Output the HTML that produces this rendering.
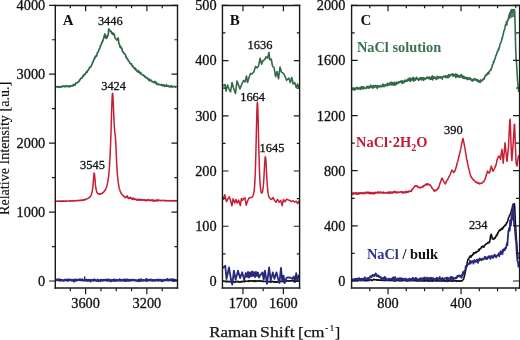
<!DOCTYPE html>
<html><head><meta charset="utf-8"><style>
html,body{margin:0;padding:0;background:#fff;}
svg{display:block;}
text{font-family:"Liberation Serif","Times New Roman",serif;}
</style></head><body>
<svg width="520" height="340" viewBox="0 0 520 340">
<rect width="520" height="340" fill="#fff"/>
<polyline points="55.60,87.00 56.00,87.09 56.40,86.88 56.80,86.64 57.20,86.79 57.60,86.58 58.00,86.95 58.40,87.40 58.80,86.72 59.20,86.66 59.60,87.06 60.00,86.99 60.40,86.89 60.80,86.49 61.20,86.81 61.60,87.07 62.00,86.29 62.40,86.61 62.80,86.04 63.20,86.25 63.60,86.01 64.00,86.61 64.40,86.19 64.80,86.77 65.20,86.70 65.60,86.55 66.00,85.61 66.40,86.36 66.80,86.52 67.20,86.56 67.60,85.87 68.00,86.26 68.40,86.03 68.80,86.06 69.20,86.79 69.60,86.00 70.00,86.29 70.40,86.58 70.80,85.90 71.20,86.01 71.60,86.03 72.00,85.93 72.40,85.31 72.80,85.65 73.20,85.95 73.60,84.48 74.00,85.27 74.40,84.71 74.80,84.14 75.20,85.00 75.60,84.15 76.00,82.98 76.40,83.21 76.80,83.11 77.20,82.46 77.60,82.52 78.00,81.87 78.40,81.88 78.80,81.80 79.20,80.41 79.60,80.35 80.00,79.60 80.40,79.42 80.80,78.36 81.20,78.19 81.60,77.91 82.00,77.98 82.40,77.64 82.80,76.02 83.20,75.82 83.60,76.02 84.00,74.24 84.40,74.50 84.80,74.18 85.20,74.37 85.60,73.60 86.00,72.59 86.40,72.08 86.80,71.65 87.20,72.08 87.60,70.57 88.00,70.14 88.40,69.91 88.80,69.07 89.20,68.44 89.60,67.36 90.00,67.38 90.40,66.56 90.80,66.87 91.20,66.00 91.60,64.94 92.00,64.36 92.40,62.80 92.80,62.62 93.20,61.03 93.60,60.50 94.00,58.84 94.40,59.25 94.80,57.47 95.20,56.69 95.60,57.09 96.00,55.82 96.40,55.56 96.80,55.95 97.20,53.16 97.60,52.47 98.00,52.16 98.40,51.52 98.80,50.13 99.20,49.09 99.60,48.68 100.00,47.54 100.40,45.62 100.80,45.37 101.20,44.56 101.60,42.92 102.00,42.86 102.40,41.05 102.80,41.29 103.20,39.71 103.60,38.55 104.00,36.80 104.40,35.87 104.80,33.88 105.20,35.62 105.60,37.80 106.00,36.78 106.40,38.33 106.80,35.98 107.20,37.38 107.60,35.91 108.00,35.33 108.40,32.89 108.80,28.92 109.20,29.94 109.60,30.24 110.00,30.45 110.40,31.17 110.80,31.79 111.20,31.42 111.60,33.07 112.00,32.55 112.40,33.95 112.80,34.48 113.20,34.36 113.60,33.24 114.00,34.35 114.40,34.57 114.80,37.18 115.20,38.35 115.60,38.55 116.00,39.12 116.40,39.28 116.80,40.03 117.20,39.67 117.60,39.19 118.00,37.90 118.40,39.20 118.80,43.26 119.20,43.96 119.60,45.06 120.00,46.44 120.40,47.67 120.80,46.44 121.20,48.06 121.60,48.61 122.00,48.70 122.40,51.24 122.80,51.57 123.20,52.23 123.60,52.19 124.00,53.50 124.40,53.49 124.80,54.40 125.20,54.42 125.60,55.05 126.00,57.40 126.40,56.94 126.80,58.16 127.20,58.67 127.60,59.12 128.00,59.65 128.40,60.91 128.80,60.90 129.20,61.56 129.60,62.23 130.00,63.48 130.40,63.72 130.80,63.99 131.20,63.88 131.60,63.85 132.00,65.68 132.40,66.15 132.80,65.95 133.20,66.80 133.60,67.39 134.00,67.87 134.40,68.37 134.80,68.03 135.20,69.62 135.60,68.49 136.00,70.04 136.40,70.17 136.80,70.74 137.20,71.65 137.60,71.77 138.00,70.64 138.40,70.69 138.80,72.43 139.20,71.76 139.60,72.66 140.00,73.48 140.40,72.47 140.80,72.56 141.20,74.17 141.60,74.35 142.00,74.50 142.40,74.95 142.80,74.77 143.20,74.73 143.60,75.75 144.00,75.62 144.40,75.57 144.80,77.01 145.20,77.01 145.60,77.56 146.00,77.13 146.40,77.58 146.80,77.66 147.20,77.97 147.60,78.77 148.00,78.52 148.40,79.35 148.80,79.59 149.20,80.69 149.60,79.22 150.00,80.61 150.40,80.37 150.80,80.66 151.20,80.20 151.60,80.92 152.00,81.71 152.40,81.51 152.80,81.79 153.20,81.81 153.60,82.71 154.00,82.34 154.40,81.50 154.80,82.42 155.20,82.02 155.60,81.62 156.00,83.10 156.40,84.17 156.80,83.75 157.20,83.30 157.60,83.52 158.00,84.58 158.40,84.25 158.80,84.32 159.20,84.38 159.60,84.54 160.00,84.99 160.40,84.99 160.80,84.96 161.20,84.51 161.60,85.31 162.00,84.90 162.40,85.74 162.80,84.79 163.20,85.34 163.60,85.47 164.00,84.98 164.40,86.34 164.80,86.29 165.20,85.55 165.60,86.13 166.00,86.04 166.40,84.87 166.80,86.12 167.20,86.06 167.60,86.16 168.00,85.72 168.40,86.09 168.80,86.16 169.20,86.73 169.60,86.43 170.00,86.33 170.40,86.96 170.80,86.18 171.20,86.28 171.60,85.77 172.00,87.10 172.40,86.87 172.80,86.86 173.20,86.78 173.60,86.57 174.00,86.62 174.40,86.45 174.80,86.48 175.20,86.58 175.60,87.12 176.00,86.78 176.40,86.57 176.80,86.39" fill="none" stroke="#306a46" stroke-width="1.7" stroke-linejoin="round"/>
<polyline points="55.60,201.13 55.85,201.47 56.10,201.30 56.35,201.23 56.60,201.16 56.85,201.04 57.10,201.20 57.35,201.33 57.60,201.14 57.85,201.16 58.10,201.16 58.35,201.20 58.60,200.95 58.85,201.14 59.10,201.05 59.35,201.30 59.60,201.05 59.85,201.25 60.10,201.39 60.35,201.11 60.60,201.06 60.85,201.18 61.10,201.14 61.35,200.99 61.60,201.20 61.85,201.43 62.10,201.09 62.35,201.09 62.60,200.96 62.85,201.16 63.10,200.92 63.35,200.94 63.60,201.29 63.85,200.96 64.10,201.25 64.35,201.31 64.60,201.12 64.85,201.16 65.10,201.36 65.35,201.04 65.60,200.97 65.85,200.85 66.10,201.06 66.35,201.27 66.60,201.18 66.85,200.89 67.10,200.90 67.35,200.95 67.60,201.06 67.85,200.98 68.10,201.04 68.35,201.04 68.60,200.95 68.85,200.98 69.10,201.01 69.35,200.96 69.60,201.04 69.85,201.24 70.10,201.04 70.35,200.96 70.60,200.69 70.85,200.99 71.10,200.63 71.35,200.71 71.60,201.04 71.85,201.01 72.10,200.87 72.35,200.63 72.60,200.82 72.85,200.77 73.10,200.96 73.35,201.19 73.60,200.87 73.85,200.71 74.10,200.65 74.35,200.80 74.60,200.77 74.85,200.62 75.10,200.79 75.35,200.59 75.60,200.92 75.85,200.90 76.10,200.89 76.35,200.64 76.60,200.77 76.85,200.66 77.10,200.61 77.35,200.60 77.60,200.44 77.85,200.40 78.10,200.72 78.35,200.55 78.60,200.59 78.85,200.69 79.10,200.26 79.35,200.38 79.60,200.50 79.85,200.51 80.10,200.37 80.35,200.55 80.60,200.39 80.85,200.15 81.10,200.16 81.35,200.39 81.60,200.30 81.85,199.91 82.10,200.36 82.35,200.21 82.60,200.28 82.85,199.97 83.10,199.94 83.35,199.77 83.60,200.27 83.85,199.81 84.10,200.02 84.35,199.63 84.60,199.69 84.85,199.36 85.10,199.48 85.35,199.62 85.60,199.21 85.85,199.49 86.10,199.30 86.35,199.01 86.60,199.00 86.85,198.91 87.10,198.87 87.35,198.69 87.60,198.53 87.85,198.49 88.10,198.25 88.35,198.07 88.60,198.10 88.85,198.07 89.10,197.53 89.35,197.56 89.60,197.23 89.85,196.93 90.10,196.92 90.35,196.39 90.60,196.32 90.85,195.55 91.10,195.22 91.35,194.53 91.60,193.72 91.85,193.04 92.10,191.84 92.35,190.61 92.60,188.82 92.85,186.56 93.10,184.12 93.35,181.12 93.60,178.01 93.85,174.83 94.10,173.25 94.35,173.10 94.60,175.29 94.85,177.88 95.10,180.83 95.35,183.87 95.60,186.35 95.85,187.79 96.10,189.29 96.35,190.46 96.60,191.26 96.85,192.16 97.10,192.50 97.35,192.92 97.60,193.43 97.85,193.47 98.10,193.83 98.35,193.75 98.60,193.81 98.85,193.78 99.10,194.38 99.35,194.07 99.60,194.15 99.85,194.09 100.10,194.08 100.35,194.01 100.60,194.22 100.85,193.70 101.10,193.54 101.35,193.52 101.60,193.35 101.85,193.54 102.10,193.41 102.35,192.99 102.60,192.77 102.85,192.74 103.10,192.81 103.35,191.96 103.60,192.23 103.85,191.74 104.10,191.78 104.35,191.16 104.60,190.94 104.85,190.40 105.10,190.08 105.35,189.99 105.60,189.42 105.85,188.70 106.10,188.03 106.35,187.22 106.60,186.70 106.85,185.93 107.10,184.99 107.35,183.93 107.60,182.59 107.85,181.40 108.10,179.87 108.35,178.32 108.60,176.40 108.85,173.78 109.10,171.02 109.35,168.04 109.60,164.37 109.85,160.20 110.10,155.50 110.35,149.81 110.60,143.72 110.85,136.48 111.10,128.69 111.35,120.31 111.60,111.89 111.85,104.18 112.10,98.10 112.35,94.19 112.60,93.29 112.85,95.11 113.10,99.13 113.35,105.07 113.60,111.17 113.85,117.37 114.10,122.73 114.35,126.70 114.60,130.15 114.85,132.44 115.10,134.36 115.35,136.74 115.60,140.21 115.85,144.78 116.10,150.35 116.35,155.96 116.60,161.41 116.85,165.99 117.10,170.33 117.35,173.83 117.60,176.75 117.85,179.21 118.10,181.50 118.35,182.98 118.60,184.87 118.85,186.20 119.10,187.39 119.35,188.44 119.60,189.20 119.85,190.07 120.10,190.93 120.35,191.55 120.60,192.10 120.85,192.37 121.10,193.16 121.35,193.69 121.60,194.06 121.85,194.31 122.10,194.37 122.35,195.05 122.60,195.17 122.85,195.07 123.10,195.75 123.35,195.69 123.60,195.93 123.85,196.22 124.10,196.69 124.35,196.61 124.60,196.87 124.85,197.23 125.10,197.67 125.35,197.20 125.60,197.27 125.85,197.00 126.10,197.23 126.35,197.50 126.60,197.17 126.85,196.57 127.10,196.45 127.35,195.77 127.60,196.42 127.85,197.34 128.10,197.90 128.35,198.46 128.60,198.44 128.85,198.28 129.10,198.54 129.35,198.03 129.60,197.69 129.85,198.28 130.10,197.86 130.35,197.87 130.60,197.20 130.85,197.86 131.10,198.06 131.35,198.25 131.60,197.98 131.85,198.80 132.10,199.32 132.35,199.20 132.60,198.89 132.85,199.12 133.10,199.39 133.35,198.11 133.60,198.94 133.85,199.02 134.10,198.90 134.35,199.15 134.60,198.96 134.85,198.82 135.10,199.03 135.35,199.41 135.60,199.12 135.85,199.40 136.10,199.80 136.35,200.20 136.60,199.49 136.85,199.55 137.10,199.66 137.35,200.08 137.60,199.62 137.85,200.16 138.10,199.33 138.35,199.62 138.60,199.63 138.85,200.00 139.10,200.10 139.35,199.23 139.60,199.45 139.85,199.90 140.10,199.57 140.35,199.28 140.60,200.20 140.85,200.02 141.10,200.03 141.35,199.71 141.60,200.25 141.85,199.82 142.10,200.30 142.35,199.61 142.60,199.64 142.85,200.03 143.10,199.72 143.35,200.22 143.60,200.08 143.85,199.68 144.10,200.04 144.35,199.90 144.60,200.36 144.85,199.83 145.10,199.90 145.35,200.49 145.60,200.86 145.85,200.79 146.10,200.12 146.35,200.19 146.60,200.66 146.85,200.09 147.10,199.80 147.35,200.19 147.60,200.32 147.85,199.88 148.10,199.60 148.35,199.68 148.60,200.43 148.85,199.94 149.10,200.16 149.35,200.30 149.60,200.45 149.85,200.12 150.10,200.42 150.35,199.94 150.60,200.14 150.85,199.91 151.10,200.67 151.35,200.28 151.60,200.04 151.85,200.18 152.10,200.23 152.35,200.56 152.60,199.77 152.85,199.97 153.10,200.21 153.35,201.23 153.60,200.69 153.85,200.32 154.10,200.62 154.35,201.10 154.60,200.30 154.85,200.26 155.10,200.82 155.35,200.58 155.60,200.64 155.85,200.24 156.10,201.10 156.35,201.03 156.60,200.63 156.85,200.68 157.10,199.74 157.35,200.68 157.60,200.39 157.85,200.62 158.10,200.71 158.35,200.36 158.60,199.89 158.85,200.62 159.10,200.24 159.35,200.39 159.60,200.30 159.85,200.40 160.10,200.18 160.35,200.71 160.60,200.57 160.85,200.71 161.10,200.84 161.35,200.55 161.60,200.29 161.85,200.43 162.10,200.39 162.35,200.50 162.60,200.59 162.85,200.28 163.10,200.64 163.35,200.37 163.60,200.65 163.85,200.59 164.10,200.57 164.35,200.61 164.60,200.54 164.85,200.54 165.10,200.38 165.35,200.64 165.60,200.92 165.85,200.95 166.10,200.85 166.35,200.77 166.60,200.56 166.85,200.89 167.10,200.67 167.35,200.67 167.60,200.64 167.85,200.71 168.10,200.63 168.35,200.69 168.60,200.54 168.85,200.66 169.10,201.06 169.35,200.71 169.60,200.69 169.85,200.81 170.10,200.84 170.35,200.57 170.60,200.72 170.85,200.89 171.10,200.80 171.35,200.78 171.60,201.00 171.85,200.67 172.10,200.79 172.35,200.70 172.60,201.01 172.85,200.50 173.10,200.69 173.35,200.72 173.60,200.90 173.85,200.90 174.10,201.02 174.35,200.58 174.60,200.94 174.85,200.78 175.10,200.73 175.35,200.92 175.60,200.70 175.85,200.53 176.10,200.80 176.35,200.63 176.60,200.76 176.85,200.92 177.10,200.92" fill="none" stroke="#c81d34" stroke-width="1.5" stroke-linejoin="round"/>
<path d="M84.7,280.5V276.2" stroke="#222244" stroke-width="1.2" fill="none"/>
<polyline points="55.60,280.83 56.10,280.12 56.60,279.59 57.10,279.90 57.60,279.83 58.10,279.71 58.60,280.37 59.10,279.94 59.60,279.41 60.10,280.48 60.60,280.16 61.10,280.34 61.60,280.24 62.10,280.45 62.60,280.22 63.10,280.69 63.60,280.37 64.10,280.36 64.60,280.36 65.10,279.62 65.60,280.13 66.10,280.10 66.60,280.28 67.10,279.66 67.60,280.85 68.10,280.24 68.60,279.72 69.10,279.52 69.60,280.09 70.10,280.16 70.60,279.91 71.10,280.24 71.60,279.94 72.10,280.42 72.60,279.91 73.10,280.18 73.60,280.59 74.10,281.23 74.60,279.80 75.10,280.01 75.60,279.86 76.10,280.51 76.60,279.74 77.10,280.01 77.60,280.19 78.10,279.81 78.60,279.82 79.10,280.01 79.60,279.36 80.10,279.62 80.60,280.03 81.10,280.26 81.60,280.13 82.10,279.49 82.60,280.01 83.10,280.52 83.60,280.42 84.10,280.17 84.60,279.85 85.10,280.45 85.60,279.97 86.10,279.73 86.60,279.88 87.10,280.78 87.60,280.29 88.10,280.66 88.60,280.01 89.10,280.58 89.60,279.96 90.10,280.14 90.60,281.19 91.10,280.51 91.60,280.00 92.10,280.17 92.60,280.33 93.10,280.68 93.60,280.00 94.10,279.50 94.60,280.09 95.10,280.21 95.60,280.24 96.10,280.73 96.60,280.33 97.10,280.53 97.60,279.76 98.10,280.55 98.60,281.04 99.10,280.51 99.60,280.30 100.10,280.26 100.60,280.91 101.10,279.83 101.60,280.16 102.10,280.38 102.60,280.50 103.10,280.03 103.60,280.32 104.10,280.09 104.60,280.25 105.10,280.15 105.60,279.74 106.10,280.19 106.60,280.55 107.10,279.81 107.60,280.10 108.10,280.47 108.60,279.77 109.10,280.27 109.60,279.78 110.10,280.65 110.60,281.13 111.10,281.01 111.60,280.11 112.10,280.50 112.60,280.25 113.10,280.24 113.60,280.82 114.10,279.67 114.60,280.62 115.10,280.18 115.60,280.76 116.10,280.27 116.60,279.93 117.10,280.31 117.60,280.49 118.10,280.21 118.60,280.40 119.10,279.99 119.60,279.35 120.10,280.56 120.60,280.48 121.10,280.26 121.60,280.23 122.10,280.61 122.60,280.02 123.10,279.92 123.60,280.12 124.10,280.68 124.60,279.65 125.10,280.68 125.60,279.94 126.10,279.76 126.60,280.70 127.10,280.16 127.60,279.68 128.10,280.06 128.60,280.57 129.10,280.68 129.60,280.03 130.10,280.36 130.60,280.49 131.10,279.94 131.60,280.34 132.10,280.19 132.60,279.99 133.10,280.00 133.60,280.23 134.10,280.21 134.60,279.97 135.10,280.03 135.60,280.65 136.10,280.29 136.60,280.55 137.10,280.68 137.60,280.44 138.10,281.11 138.60,279.87 139.10,280.52 139.60,280.07 140.10,280.94 140.60,280.88 141.10,279.42 141.60,279.81 142.10,280.47 142.60,280.52 143.10,280.49 143.60,280.17 144.10,280.38 144.60,280.46 145.10,280.17 145.60,280.61 146.10,279.30 146.60,280.45 147.10,279.79 147.60,280.58 148.10,280.11 148.60,279.84 149.10,280.35 149.60,279.84 150.10,279.83 150.60,279.57 151.10,280.19 151.60,280.40 152.10,280.61 152.60,280.14 153.10,280.62 153.60,280.21 154.10,280.16 154.60,280.43 155.10,280.62 155.60,280.06 156.10,280.10 156.60,280.14 157.10,280.23 157.60,279.84 158.10,280.61 158.60,280.04 159.10,280.38 159.60,279.87 160.10,280.34 160.60,280.36 161.10,280.03 161.60,281.01 162.10,280.35 162.60,280.91 163.10,280.58 163.60,279.94 164.10,280.05 164.60,280.37 165.10,280.22 165.60,280.22 166.10,280.09 166.60,279.48 167.10,280.11 167.60,279.31 168.10,280.35 168.60,279.91 169.10,279.91 169.60,280.11 170.10,280.31 170.60,279.63 171.10,279.50 171.60,279.77 172.10,279.38 172.60,279.81 173.10,280.84 173.60,279.78 174.10,280.46 174.60,279.65 175.10,280.32 175.60,280.07 176.10,280.18 176.60,280.43 177.10,280.90" fill="none" stroke="#28287f" stroke-width="2.3" stroke-linejoin="round"/>
<polyline points="223.00,86.00 225.00,84.50 226.00,91.00 227.50,85.00 229.00,89.00 230.50,92.00 232.00,82.50 233.50,88.00 235.50,93.50 237.00,81.00 238.50,85.00 240.00,89.00 242.00,83.50 243.50,80.50 245.00,82.00 246.50,76.00 247.50,82.50 249.00,77.50 250.50,73.50 252.00,74.00 254.00,71.50 255.50,66.50 257.20,67.80 258.70,65.60 260.10,58.20 261.60,64.10 263.10,60.40 264.60,59.70 266.00,56.80 267.50,58.20 269.00,52.40 269.70,59.70 271.20,59.00 272.60,66.30 274.10,67.80 275.60,76.60 277.00,71.50 278.50,78.80 280.00,67.00 281.50,72.20 283.70,73.70 285.10,76.60 286.60,80.30 288.80,78.10 290.30,82.50 291.80,77.40 293.20,84.00 294.70,82.50 296.20,87.60 297.60,84.00 298.90,87.60" fill="none" stroke="#306a46" stroke-width="1.6" stroke-linejoin="round"/>
<polyline points="222.80,200.01 224.80,194.80 226.40,201.59 229.10,196.76 230.30,199.55 231.90,205.83 233.10,198.72 234.70,203.09 235.90,199.47 237.10,203.05 238.70,200.20 240.30,205.65 241.40,198.50 242.60,200.44 243.80,198.36 245.00,197.86 246.20,205.22 247.40,201.54 249.00,197.98 250.60,197.55 250.85,197.53 251.10,197.50 251.35,197.46 251.60,197.39 251.85,197.29 252.00,197.22 252.10,197.12 252.35,196.83 252.60,196.48 252.85,196.06 253.10,195.54 253.35,194.86 253.60,193.96 253.85,192.75 254.10,191.10 254.35,188.87 254.60,185.86 254.85,181.90 255.10,176.81 255.35,170.45 255.60,162.75 255.85,153.78 256.10,143.73 256.35,133.02 256.60,122.32 256.85,112.71 257.10,105.56 257.35,102.29 257.60,103.67 257.85,109.35 258.10,118.09 258.35,128.44 258.60,139.17 258.85,149.48 259.10,158.83 259.35,166.97 259.60,173.77 259.85,179.25 260.10,183.53 260.35,186.76 260.60,189.12 260.85,190.79 261.10,191.93 261.35,192.64 261.60,193.01 261.85,193.06 262.00,192.94 262.10,192.80 262.35,192.21 262.60,191.23 262.85,189.78 263.10,187.80 263.35,185.24 263.60,182.08 263.85,178.35 264.10,174.13 264.35,169.60 264.60,165.08 264.85,161.01 265.10,158.01 265.35,156.70 265.60,157.40 265.85,159.98 266.10,163.89 266.35,168.49 266.60,173.26 266.85,177.84 267.10,182.00 267.35,185.64 267.60,188.69 267.85,191.17 268.10,193.13 268.35,194.63 268.60,195.77 268.85,196.62 269.10,197.25 269.35,197.73 269.60,198.09 269.85,198.38 270.10,198.61 270.35,198.80 270.60,198.96 270.85,199.11 271.10,199.24 271.35,199.35 271.50,199.41 273.10,197.54 274.30,200.14 275.90,202.32 277.50,199.24 279.10,202.12 280.70,200.58 282.20,205.73 283.40,199.46 285.00,201.89 286.60,199.12 288.20,199.94 289.80,200.36 291.40,201.57 293.00,200.78 294.50,201.99 296.10,201.20 297.70,203.61 298.90,200.82" fill="none" stroke="#c81d34" stroke-width="1.5" stroke-linejoin="round"/>
<polyline points="223.00,281.19 223.50,281.21 224.00,281.03 224.50,281.38 225.00,281.25 225.50,281.51 226.00,281.38 226.50,281.77 227.00,281.07 227.50,281.45 228.00,281.72 228.50,281.52 229.00,281.47 229.50,281.61 230.00,281.42 230.50,281.75 231.00,282.25 231.50,282.02 232.00,281.59 232.50,281.66 233.00,281.77 233.50,282.07 234.00,281.72 234.50,281.75 235.00,282.07 235.50,282.07 236.00,281.82 236.50,281.67 237.00,281.58 237.50,281.74 238.00,281.42 238.50,281.99 239.00,281.70 239.50,281.90 240.00,282.15 240.50,281.98 241.00,281.48 241.50,281.85 242.00,281.87 242.50,281.46 243.00,281.38 243.50,281.51 244.00,281.17 244.50,281.74 245.00,280.92 245.50,281.14 246.00,281.27 246.50,281.23 247.00,281.27 247.50,281.26 248.00,281.12 248.50,281.36 249.00,280.67 249.50,281.06 250.00,280.89 250.50,281.03 251.00,281.03 251.50,280.78 252.00,280.81 252.50,281.09 253.00,280.98 253.50,280.77 254.00,281.31 254.50,281.36 255.00,280.61 255.50,280.97 256.00,281.42 256.50,281.09 257.00,280.99 257.50,280.92 258.00,280.88 258.50,280.97 259.00,280.93 259.50,281.21 260.00,281.02 260.50,281.04 261.00,280.93 261.50,281.20 262.00,281.07 262.50,281.25 263.00,281.53 263.50,281.44 264.00,281.51 264.50,281.52 265.00,281.50 265.50,281.51 266.00,281.51 266.50,281.76 267.00,281.43 267.50,281.95 268.00,281.72 268.50,281.60 269.00,281.68 269.50,281.67 270.00,281.86 270.50,281.70 271.00,282.09 271.50,281.72 272.00,281.43 272.50,281.75 273.00,281.50 273.50,281.89 274.00,282.11 274.50,282.02 275.00,281.61 275.50,281.71 276.00,282.21 276.50,281.90 277.00,281.81 277.50,281.99 278.00,282.25 278.50,281.98 279.00,281.72 279.50,281.73 280.00,281.74 280.50,281.46 281.00,281.33 281.50,281.51 282.00,281.27 282.50,281.41 283.00,281.40 283.50,281.81 284.00,281.13 284.50,281.23 285.00,281.18 285.50,281.27 286.00,281.35 286.50,281.01 287.00,280.91 287.50,280.72 288.00,280.83 288.50,281.10 289.00,280.98 289.50,280.75 290.00,280.86 290.50,280.93 291.00,281.01 291.50,280.78 292.00,280.85 292.50,280.54 293.00,280.67 293.50,281.24 294.00,280.49 294.50,280.87 295.00,281.00 295.50,280.90 296.00,280.84 296.50,281.01 297.00,281.05 297.50,281.07 298.00,280.74 298.50,281.12 299.00,281.02" fill="none" stroke="#111111" stroke-width="1.7" stroke-linejoin="round"/>
<polyline points="222.80,268.00 225.30,265.80 226.50,279.00 229.00,267.40 231.00,279.80 232.30,284.70 233.90,270.70 235.60,279.80 238.00,270.70 240.10,278.10 242.20,272.30 244.20,279.80 245.90,273.00 247.00,277.00 248.00,272.00 249.00,277.50 250.00,272.50 251.00,276.50 252.00,271.50 253.00,276.00 254.00,272.00 255.00,277.00 256.00,271.80 257.00,276.00 258.00,272.50 259.00,277.50 260.00,275.60 262.50,272.40 263.70,279.80 264.90,270.70 267.00,283.90 269.10,267.40 270.70,280.60 272.80,272.40 274.40,278.90 276.50,272.40 278.10,278.90 279.40,283.00 281.00,267.80 282.20,280.60 283.50,275.60 284.70,283.00 286.40,278.10 288.00,277.30 290.50,277.70 292.10,278.90 293.80,276.50 295.00,282.20 296.20,273.20 297.50,280.60 298.90,274.80" fill="none" stroke="#28287f" stroke-width="1.8" stroke-linejoin="round"/>
<polyline points="352.30,88.79 352.60,89.33 352.90,89.60 353.20,89.75 353.50,88.67 353.80,89.70 354.10,89.84 354.40,89.78 354.70,89.93 355.00,88.74 355.30,88.68 355.60,89.39 355.90,87.70 356.20,88.85 356.50,88.25 356.80,88.33 357.10,87.27 357.40,87.87 357.70,88.48 358.00,89.12 358.30,89.16 358.60,88.32 358.90,88.20 359.20,87.68 359.50,88.57 359.80,88.04 360.10,88.64 360.40,89.46 360.70,88.09 361.00,86.95 361.30,87.39 361.60,86.90 361.90,87.06 362.20,88.90 362.50,88.05 362.80,86.70 363.10,88.29 363.40,88.71 363.70,87.46 364.00,87.18 364.30,87.40 364.60,87.82 364.90,88.05 365.20,88.42 365.50,88.41 365.80,88.35 366.10,88.44 366.40,87.88 366.70,86.20 367.00,87.21 367.30,87.51 367.60,86.95 367.90,87.88 368.20,86.89 368.50,86.43 368.80,88.18 369.10,87.56 369.40,87.19 369.70,87.68 370.00,87.75 370.30,87.18 370.60,85.05 370.90,86.35 371.20,86.48 371.50,86.06 371.80,86.91 372.10,87.63 372.40,86.34 372.70,85.82 373.00,88.17 373.30,86.28 373.60,85.66 373.90,86.74 374.20,86.85 374.50,85.97 374.80,87.07 375.10,86.08 375.40,85.72 375.70,86.52 376.00,86.93 376.30,85.85 376.60,86.54 376.90,86.19 377.20,88.35 377.50,85.67 377.80,87.20 378.10,86.09 378.40,86.00 378.70,86.60 379.00,86.70 379.30,86.94 379.60,86.20 379.90,85.46 380.20,85.47 380.50,86.21 380.80,86.22 381.10,86.79 381.40,86.01 381.70,86.45 382.00,86.74 382.30,85.68 382.60,84.39 382.90,84.57 383.20,84.32 383.50,86.54 383.80,84.65 384.10,86.16 384.40,85.62 384.70,86.41 385.00,85.82 385.30,84.94 385.60,84.81 385.90,84.96 386.20,84.98 386.50,84.39 386.80,84.71 387.10,85.88 387.40,83.34 387.70,84.76 388.00,83.83 388.30,84.60 388.60,85.03 388.90,84.31 389.20,84.88 389.50,83.06 389.80,85.03 390.10,83.70 390.40,84.57 390.70,84.19 391.00,82.07 391.30,83.39 391.60,84.08 391.90,85.03 392.20,84.03 392.50,83.96 392.80,82.66 393.10,84.75 393.40,84.99 393.70,83.61 394.00,83.37 394.30,82.28 394.60,84.11 394.90,85.42 395.20,83.89 395.50,84.25 395.80,83.66 396.10,82.47 396.40,84.16 396.70,82.18 397.00,82.90 397.30,83.21 397.60,83.61 397.90,83.21 398.20,83.14 398.50,82.22 398.80,81.77 399.10,82.72 399.40,82.09 399.70,81.58 400.00,81.55 400.30,82.07 400.60,80.98 400.90,81.30 401.20,81.01 401.50,82.31 401.80,82.40 402.10,83.53 402.40,80.83 402.70,81.37 403.00,82.48 403.30,81.56 403.60,81.40 403.90,82.85 404.20,81.23 404.50,80.54 404.80,80.34 405.10,81.50 405.40,81.39 405.70,80.05 406.00,80.26 406.30,81.32 406.60,81.26 406.90,80.24 407.20,81.09 407.50,80.95 407.80,79.08 408.10,80.07 408.40,80.51 408.70,79.66 409.00,78.38 409.30,79.66 409.60,80.34 409.90,80.86 410.20,77.94 410.50,81.46 410.80,78.58 411.10,80.07 411.40,80.22 411.70,79.98 412.00,79.32 412.30,78.31 412.60,79.63 412.90,78.60 413.20,77.22 413.50,81.22 413.80,79.61 414.10,80.42 414.40,78.36 414.70,80.13 415.00,80.21 415.30,80.17 415.60,78.97 415.90,78.07 416.20,78.83 416.50,77.30 416.80,77.66 417.10,79.00 417.40,78.17 417.70,78.78 418.00,78.81 418.30,80.33 418.60,79.84 418.90,78.82 419.20,79.75 419.50,78.24 419.80,78.56 420.10,79.48 420.40,77.85 420.70,78.55 421.00,77.75 421.30,78.81 421.60,79.93 421.90,78.12 422.20,78.83 422.50,77.97 422.80,77.76 423.10,77.68 423.40,79.67 423.70,80.33 424.00,78.90 424.30,77.98 424.60,79.03 424.90,78.23 425.20,79.06 425.50,78.65 425.80,78.62 426.10,78.85 426.40,77.93 426.70,78.04 427.00,77.03 427.30,77.97 427.60,77.22 427.90,78.15 428.20,77.52 428.50,78.29 428.80,78.54 429.10,77.11 429.40,77.54 429.70,77.43 430.00,78.67 430.30,79.37 430.60,78.71 430.90,77.79 431.20,79.13 431.50,76.88 431.80,79.12 432.10,77.48 432.40,75.87 432.70,79.93 433.00,79.11 433.30,77.13 433.60,78.02 433.90,77.72 434.20,77.94 434.50,76.74 434.80,77.32 435.10,78.17 435.40,77.97 435.70,78.69 436.00,77.83 436.30,79.52 436.60,77.20 436.90,77.92 437.20,76.27 437.50,76.75 437.80,78.67 438.10,76.94 438.40,78.03 438.70,77.56 439.00,76.80 439.30,77.30 439.60,77.15 439.90,77.14 440.20,78.05 440.50,77.94 440.80,76.98 441.10,76.69 441.40,77.54 441.70,77.20 442.00,78.00 442.30,79.17 442.60,77.75 442.90,77.04 443.20,76.87 443.50,76.30 443.80,76.20 444.10,76.06 444.40,76.45 444.70,76.36 445.00,77.18 445.30,76.25 445.60,76.34 445.90,75.51 446.20,77.59 446.50,76.66 446.80,77.53 447.10,76.70 447.40,77.12 447.70,75.71 448.00,76.33 448.30,77.71 448.60,74.66 448.90,76.35 449.20,76.64 449.50,75.59 449.80,75.75 450.10,76.05 450.40,74.51 450.70,75.26 451.00,74.22 451.30,74.33 451.60,74.34 451.90,74.69 452.20,74.92 452.50,75.17 452.80,73.76 453.10,76.41 453.40,75.83 453.70,75.56 454.00,74.79 454.30,75.06 454.60,75.62 454.90,75.59 455.20,74.05 455.50,75.97 455.80,77.70 456.10,74.10 456.40,76.33 456.70,75.90 457.00,75.58 457.30,76.77 457.60,74.86 457.90,75.94 458.20,76.99 458.50,75.77 458.80,75.65 459.10,76.11 459.40,75.74 459.70,77.33 460.00,75.50 460.30,76.94 460.60,75.37 460.90,76.92 461.20,76.39 461.50,74.55 461.80,76.62 462.10,75.88 462.40,76.44 462.70,78.05 463.00,76.08 463.30,76.21 463.60,78.22 463.90,77.28 464.20,78.46 464.50,77.61 464.80,76.76 465.10,77.48 465.40,78.56 465.70,78.43 466.00,77.79 466.30,77.92 466.60,77.89 466.90,77.62 467.20,79.65 467.50,78.26 467.80,77.48 468.10,78.08 468.40,79.10 468.70,79.12 469.00,78.61 469.30,78.29 469.60,78.91 469.90,77.68 470.20,78.05 470.50,79.75 470.80,78.84 471.10,79.58 471.40,80.30 471.70,79.94 472.00,79.53 472.30,81.22 472.60,80.17 472.90,79.45 473.20,80.36 473.50,80.18 473.80,79.27 474.10,80.06 474.40,79.94 474.70,78.62 475.00,80.07 475.30,80.05 475.60,79.99 475.90,79.11 476.20,80.17 476.50,80.47 476.80,80.63 477.10,79.74 477.40,81.16 477.70,79.80 478.00,80.63 478.30,81.88 478.60,80.43 478.90,80.66 479.20,81.98 479.50,80.96 479.80,81.12 480.10,81.61 480.40,82.31 480.70,79.89 481.00,80.97 481.30,80.83 481.60,80.66 481.90,80.58 482.20,80.25 482.50,80.68 482.80,79.36 483.10,79.65 483.40,79.42 483.70,78.21 484.00,78.39 484.30,78.99 484.60,77.59 484.90,76.44 485.20,76.36 485.50,75.31 485.80,75.69 486.10,75.70 486.40,74.23 486.70,74.34 487.00,74.94 487.30,73.62 487.60,73.81 487.90,72.76 488.20,72.61 488.50,72.47 488.80,73.78 489.10,71.78 489.40,71.28 489.70,70.80 490.00,70.55 490.30,70.53 490.60,69.71 490.90,70.25 491.20,68.51 491.50,68.57 491.80,67.15 492.10,66.61 492.40,64.63 492.70,64.67 493.00,63.96 493.30,63.11 493.60,61.21 493.90,62.26 494.20,60.71 494.50,59.89 494.80,59.19 495.10,58.39 495.40,57.91 495.70,56.02 496.00,55.33 496.30,55.17 496.60,54.20 496.90,53.05 497.20,52.13 497.50,51.21 497.80,50.94 498.10,50.96 498.40,48.89 498.70,49.71 499.00,48.56 499.30,47.00 499.60,46.92 499.90,44.74 500.20,43.74 500.50,43.14 500.80,42.79 501.10,41.93 501.40,40.89 501.70,40.29 502.00,37.96 502.30,38.49 502.60,36.23 502.90,35.51 503.20,34.45 503.50,32.79 503.80,31.46 504.10,30.50 504.40,29.84 504.70,28.91 505.00,27.66 505.30,25.54 505.60,24.77 505.90,24.00 506.20,24.85 506.50,21.73 506.80,24.89 507.10,21.91 507.40,20.32 507.70,20.70 508.00,20.65 508.30,18.31 508.60,18.14 508.90,15.48 509.20,16.37 509.50,15.85 509.80,13.28 510.10,15.37 510.40,12.93 510.70,12.40 511.00,10.39 511.30,11.00 511.60,12.31 511.90,9.60 512.20,11.20 512.50,10.34 512.80,9.97 513.10,9.60 513.40,9.60 513.70,10.06 514.00,9.60 514.30,10.64 514.60,11.00 514.90,18.08 515.20,27.45 515.50,42.26 515.80,52.03 516.10,58.33 516.40,61.38 516.70,65.91 517.00,71.22 517.30,76.26 517.60,81.06 517.90,83.61 518.20,86.82 518.50,89.85 518.80,92.19" fill="none" stroke="#306a46" stroke-width="1.6" stroke-linejoin="round"/>
<polygon points="508.6,13.5 510.2,11.2 512.2,9.2 514.8,8.9 515.3,10.5 515.1,16.8 512.5,17.2 510.5,18.2 509.2,19.5" fill="#306a46" opacity="0.85"/>
<polyline points="352.30,193.94 352.60,194.17 352.90,193.07 353.20,192.60 353.50,193.90 353.80,193.86 354.10,193.73 354.40,193.87 354.70,192.96 355.00,193.26 355.30,192.71 355.60,192.69 355.90,193.76 356.20,193.01 356.50,194.33 356.80,193.33 357.10,193.00 357.40,193.64 357.70,194.09 358.00,193.49 358.30,192.72 358.60,193.42 358.90,193.87 359.20,193.02 359.50,192.89 359.80,193.69 360.10,193.29 360.40,192.72 360.70,193.04 361.00,192.86 361.30,193.33 361.60,193.24 361.90,193.70 362.20,193.50 362.50,192.47 362.80,193.35 363.10,193.56 363.40,193.35 363.70,193.61 364.00,192.89 364.30,192.70 364.60,193.54 364.90,192.64 365.20,192.14 365.50,193.56 365.80,192.77 366.10,192.95 366.40,192.45 366.70,192.48 367.00,192.55 367.30,192.90 367.60,193.22 367.90,192.01 368.20,193.38 368.50,192.50 368.80,192.55 369.10,193.33 369.40,192.98 369.70,192.32 370.00,193.83 370.30,192.60 370.60,193.09 370.90,193.06 371.20,193.60 371.50,192.75 371.80,193.40 372.10,192.60 372.40,193.43 372.70,192.57 373.00,192.74 373.30,193.75 373.60,193.03 373.90,192.93 374.20,193.88 374.50,193.02 374.80,192.48 375.10,193.17 375.40,192.30 375.70,193.33 376.00,193.35 376.30,192.54 376.60,192.51 376.90,192.86 377.20,192.78 377.50,192.32 377.80,193.01 378.10,191.83 378.40,192.54 378.70,192.54 379.00,192.59 379.30,192.85 379.60,192.15 379.90,192.95 380.20,192.60 380.50,192.38 380.80,192.04 381.10,192.12 381.40,192.80 381.70,192.20 382.00,192.65 382.30,193.09 382.60,193.07 382.90,193.30 383.20,192.45 383.50,192.09 383.80,193.03 384.10,192.71 384.40,193.06 384.70,192.56 385.00,193.08 385.30,192.92 385.60,192.85 385.90,192.75 386.20,192.69 386.50,192.61 386.80,192.60 387.10,192.94 387.40,192.25 387.70,193.26 388.00,192.42 388.30,192.91 388.60,192.42 388.90,192.34 389.20,193.36 389.50,192.29 389.80,191.85 390.10,192.10 390.40,192.27 390.70,193.37 391.00,192.49 391.30,192.81 391.60,191.93 391.90,192.53 392.20,192.67 392.50,193.17 392.80,192.04 393.10,192.62 393.40,192.48 393.70,191.87 394.00,192.32 394.30,192.20 394.60,191.26 394.90,192.57 395.20,192.54 395.50,192.09 395.80,191.67 396.10,192.93 396.40,192.37 396.70,192.70 397.00,192.87 397.30,191.99 397.60,192.58 397.90,192.09 398.20,192.17 398.50,192.14 398.80,192.17 399.10,192.66 399.40,192.21 399.70,192.07 400.00,192.01 400.30,192.28 400.60,191.71 400.90,191.88 401.20,192.07 401.50,191.83 401.80,192.02 402.10,191.79 402.40,192.96 402.70,192.64 403.00,192.24 403.30,192.00 403.60,193.00 403.90,192.15 404.20,191.95 404.50,192.10 404.80,192.08 405.10,192.55 405.40,191.89 405.70,192.82 406.00,191.46 406.30,192.14 406.60,191.36 406.90,192.60 407.20,191.62 407.50,191.72 407.80,192.14 408.10,192.26 408.40,191.18 408.70,191.50 409.00,191.00 409.30,191.67 409.60,191.54 409.90,191.41 410.20,191.24 410.50,191.35 410.80,191.16 411.10,191.39 411.40,191.48 411.70,189.57 412.00,190.05 412.30,189.61 412.60,189.50 412.90,188.61 413.20,188.41 413.50,187.69 413.80,187.76 414.10,187.13 414.40,186.60 414.70,186.53 415.00,186.24 415.30,185.73 415.60,186.26 415.90,186.05 416.20,185.81 416.50,186.03 416.80,186.27 417.10,185.87 417.40,186.27 417.70,187.26 418.00,187.53 418.30,187.18 418.60,187.27 418.90,187.49 419.20,187.60 419.50,187.34 419.80,187.89 420.10,187.43 420.40,187.31 420.70,187.81 421.00,187.20 421.30,187.25 421.60,187.32 421.90,187.24 422.20,186.76 422.50,186.74 422.80,186.34 423.10,186.94 423.40,186.37 423.70,185.61 424.00,185.70 424.30,185.67 424.60,185.36 424.90,185.53 425.20,185.15 425.50,184.34 425.80,184.43 426.10,184.03 426.40,184.45 426.70,184.37 427.00,185.10 427.30,184.27 427.60,183.57 427.90,184.10 428.20,184.43 428.50,184.12 428.80,184.34 429.10,184.59 429.40,184.90 429.70,184.85 430.00,184.73 430.30,185.69 430.60,185.74 430.90,186.20 431.20,186.39 431.50,187.01 431.80,187.90 432.10,187.64 432.40,188.49 432.70,189.11 433.00,189.16 433.30,189.73 433.60,189.70 433.90,190.81 434.20,191.13 434.50,190.77 434.80,190.06 435.10,190.17 435.40,190.68 435.70,190.79 436.00,190.26 436.30,190.44 436.60,189.72 436.90,189.54 437.20,189.30 437.50,189.13 437.80,188.24 438.10,188.68 438.40,188.50 438.70,187.24 439.00,186.25 439.30,185.83 439.60,184.60 439.90,183.15 440.20,183.17 440.50,182.05 440.80,181.00 441.10,180.92 441.40,179.47 441.70,178.35 442.00,178.22 442.30,178.44 442.60,179.08 442.90,179.99 443.20,180.27 443.50,180.86 443.80,181.92 444.10,182.09 444.40,182.49 444.70,182.83 445.00,183.23 445.30,183.94 445.60,182.95 445.90,182.97 446.20,181.58 446.50,181.24 446.80,180.36 447.10,180.12 447.40,179.84 447.70,179.60 448.00,178.46 448.30,178.16 448.60,177.54 448.90,176.92 449.20,176.28 449.50,176.15 449.80,175.03 450.10,174.83 450.40,174.06 450.70,173.10 451.00,172.25 451.30,171.38 451.60,171.61 451.90,169.90 452.20,171.07 452.50,171.08 452.80,171.09 453.10,171.15 453.40,172.11 453.70,172.62 454.00,172.12 454.30,171.94 454.60,171.64 454.90,170.72 455.20,170.51 455.50,169.03 455.80,168.66 456.10,167.00 456.40,166.88 456.70,164.91 457.00,163.34 457.30,162.84 457.60,161.65 457.90,161.04 458.20,159.15 458.50,158.03 458.80,156.99 459.10,156.08 459.40,154.40 459.70,153.55 460.00,152.21 460.30,150.79 460.60,149.72 460.90,148.16 461.20,146.16 461.50,145.08 461.80,142.58 462.10,142.04 462.40,140.67 462.70,139.04 463.00,138.41 463.30,139.88 463.60,141.40 463.90,142.79 464.20,144.23 464.50,146.16 464.80,147.41 465.10,149.37 465.40,150.63 465.70,153.13 466.00,154.75 466.30,156.38 466.60,158.65 466.90,160.31 467.20,161.06 467.50,163.32 467.80,164.08 468.10,166.04 468.40,167.68 468.70,167.99 469.00,169.37 469.30,170.49 469.60,171.87 469.90,173.17 470.20,174.57 470.50,175.10 470.80,176.58 471.10,176.29 471.40,177.12 471.70,177.84 472.00,178.17 472.30,178.14 472.60,178.67 472.90,179.21 473.20,179.66 473.50,180.27 473.80,179.80 474.10,180.58 474.40,180.88 474.70,181.12 475.00,181.35 475.30,181.89 475.60,181.78 475.90,182.09 476.20,182.20 476.50,182.77 476.80,181.86 477.10,183.02 477.40,182.76 477.70,182.95 478.00,182.94 478.30,182.87 478.60,183.39 478.90,183.29 479.20,183.65 479.50,183.06 479.80,183.93 480.10,183.58 480.40,183.43 480.70,183.29 481.00,183.26 481.30,183.16 481.60,183.34 481.90,183.28 482.20,182.89 482.50,182.18 482.80,182.19 483.10,181.66 483.40,181.64 483.70,181.82 484.00,181.15 484.30,180.58 484.60,179.90 484.90,179.67 485.20,178.77 485.50,178.42 485.80,176.89 486.10,176.06 486.40,174.77 486.70,173.91 487.00,173.22 487.30,171.51 487.60,171.05 487.90,171.39 488.20,172.36 488.50,172.26 488.80,172.70 489.10,173.10 489.40,172.76 489.70,172.20 490.00,171.71 490.30,169.51 490.60,168.97 490.90,167.64 491.20,166.11 491.50,166.88 491.80,167.75 492.10,168.47 492.40,170.11 492.70,169.82 493.00,171.36 493.30,170.75 493.60,169.88 493.90,169.49 494.20,169.11 494.50,168.30 494.80,167.78 495.10,167.26 495.40,165.84 495.70,165.94 496.00,165.06 496.30,163.54 496.60,162.43 496.90,160.58 497.20,159.84 497.50,158.51 497.80,157.97 498.10,157.84 498.40,156.71 498.70,156.31 499.00,156.03 499.30,156.99 499.60,157.49 499.90,157.68 500.20,158.11 500.50,159.32 500.80,156.39 501.10,154.43 501.40,152.51 501.70,151.11 502.00,149.38 502.30,152.39 502.60,155.61 502.90,159.24 503.20,163.23 503.50,160.23 503.80,157.34 504.10,153.72 504.40,149.72 504.70,146.29 505.00,142.72 505.30,145.97 505.60,148.18 505.90,151.85 506.20,154.39 506.50,157.27 506.80,160.53 507.10,161.34 507.40,157.80 507.70,154.32 508.00,151.22 508.30,148.64 508.60,144.62 508.90,138.33 509.20,132.59 509.50,126.18 509.80,120.41 510.10,119.21 510.40,126.69 510.70,134.60 511.00,142.81 511.30,150.58 511.60,158.24 511.90,160.62 512.20,156.42 512.50,152.81 512.80,148.50 513.10,144.41 513.40,139.99 513.70,134.80 514.00,129.55 514.30,124.53 514.60,124.22 514.90,132.44 515.20,140.89 515.50,148.24 515.80,156.88 516.10,162.75 516.40,164.05 516.70,164.99 517.00,166.10 517.30,164.23 517.60,161.80 517.90,159.15 518.20,157.65 518.50,155.30" fill="none" stroke="#c81d34" stroke-width="1.5" stroke-linejoin="round"/>
<polyline points="352.30,280.29 352.65,280.57 353.00,280.25 353.35,280.63 353.70,280.36 354.05,280.24 354.40,280.33 354.75,280.25 355.10,280.44 355.45,280.44 355.80,280.41 356.15,280.29 356.50,279.67 356.85,280.42 357.20,280.02 357.55,280.45 357.90,280.63 358.25,280.45 358.60,280.32 358.95,280.36 359.30,280.37 359.65,280.29 360.00,280.28 360.35,280.22 360.70,280.64 361.05,280.40 361.40,280.59 361.75,280.35 362.10,280.41 362.45,280.37 362.80,280.49 363.15,280.57 363.50,280.45 363.85,280.27 364.20,280.24 364.55,280.73 364.90,280.34 365.25,280.34 365.60,280.68 365.95,280.59 366.30,280.47 366.65,280.28 367.00,280.82 367.35,280.42 367.70,280.44 368.05,280.29 368.40,280.03 368.75,280.04 369.10,280.37 369.45,280.33 369.80,280.17 370.15,279.95 370.50,279.86 370.85,280.05 371.20,279.79 371.55,280.22 371.90,280.24 372.25,280.53 372.60,280.10 372.95,279.76 373.30,279.66 373.65,279.10 374.00,279.63 374.35,279.67 374.70,279.86 375.05,279.74 375.40,279.75 375.75,279.72 376.10,279.86 376.45,280.07 376.80,279.62 377.15,279.79 377.50,279.65 377.85,280.30 378.20,280.27 378.55,280.19 378.90,279.83 379.25,280.13 379.60,280.07 379.95,280.16 380.30,280.13 380.65,280.30 381.00,280.15 381.35,280.42 381.70,280.33 382.05,280.24 382.40,280.29 382.75,280.23 383.10,280.49 383.45,280.28 383.80,280.40 384.15,280.28 384.50,280.07 384.85,280.55 385.20,280.17 385.55,280.52 385.90,280.48 386.25,280.08 386.60,280.23 386.95,280.32 387.30,280.27 387.65,280.20 388.00,280.60 388.35,280.41 388.70,280.54 389.05,280.39 389.40,280.55 389.75,280.34 390.10,280.50 390.45,280.62 390.80,280.51 391.15,280.42 391.50,280.29 391.85,280.55 392.20,280.58 392.55,280.47 392.90,280.37 393.25,280.63 393.60,281.02 393.95,280.47 394.30,280.60 394.65,280.61 395.00,280.02 395.35,280.56 395.70,280.40 396.05,280.82 396.40,280.49 396.75,280.39 397.10,280.50 397.45,280.58 397.80,280.44 398.15,280.54 398.50,280.29 398.85,280.51 399.20,280.72 399.55,280.96 399.90,280.71 400.25,280.62 400.60,280.81 400.95,280.78 401.30,280.91 401.65,280.79 402.00,280.56 402.35,280.63 402.70,280.62 403.05,280.65 403.40,280.63 403.75,280.44 404.10,280.17 404.45,280.46 404.80,280.19 405.15,280.61 405.50,280.60 405.85,280.27 406.20,280.75 406.55,280.78 406.90,280.63 407.25,280.95 407.60,280.99 407.95,280.38 408.30,280.83 408.65,280.71 409.00,280.71 409.35,280.82 409.70,280.49 410.05,280.52 410.40,280.47 410.75,280.49 411.10,280.62 411.45,280.35 411.80,280.44 412.15,280.76 412.50,280.64 412.85,280.73 413.20,280.28 413.55,280.50 413.90,280.55 414.25,280.67 414.60,280.55 414.95,280.85 415.30,280.66 415.65,280.67 416.00,280.68 416.35,280.82 416.70,280.58 417.05,280.90 417.40,280.77 417.75,280.72 418.10,280.70 418.45,280.79 418.80,280.90 419.15,280.88 419.50,280.77 419.85,280.87 420.20,280.72 420.55,280.95 420.90,280.70 421.25,280.29 421.60,280.98 421.95,280.73 422.30,280.48 422.65,280.68 423.00,280.54 423.35,281.14 423.70,280.82 424.05,280.41 424.40,280.83 424.75,280.65 425.10,281.11 425.45,280.52 425.80,280.28 426.15,280.75 426.50,280.67 426.85,280.66 427.20,280.31 427.55,280.83 427.90,281.08 428.25,280.37 428.60,280.98 428.95,280.64 429.30,281.22 429.65,280.84 430.00,280.72 430.35,280.98 430.70,280.87 431.05,280.64 431.40,280.91 431.75,280.67 432.10,280.41 432.45,281.18 432.80,280.70 433.15,280.65 433.50,280.84 433.85,280.47 434.20,280.51 434.55,280.68 434.90,280.68 435.25,280.80 435.60,281.01 435.95,280.70 436.30,280.89 436.65,280.92 437.00,280.58 437.35,280.84 437.70,280.61 438.05,281.02 438.40,280.90 438.75,280.81 439.10,280.54 439.45,280.83 439.80,280.66 440.15,280.96 440.50,280.79 440.85,280.66 441.20,281.01 441.55,280.97 441.90,280.71 442.25,281.06 442.60,280.77 442.95,280.77 443.30,280.86 443.65,280.68 444.00,280.75 444.35,280.81 444.70,281.15 445.05,281.14 445.40,280.79 445.75,281.17 446.10,280.84 446.45,280.93 446.80,281.03 447.15,280.91 447.50,281.34 447.85,280.91 448.20,280.62 448.55,281.12 448.90,280.78 449.25,280.81 449.60,280.27 449.95,281.07 450.30,281.04 450.65,281.03 451.00,281.07 451.35,281.22 451.70,280.87 452.05,281.07 452.40,280.74 452.75,280.82 453.10,281.10 453.45,280.97 453.80,280.63 454.15,280.97 454.50,280.86 454.85,280.74 455.20,280.99 455.55,280.83 455.90,280.60 456.25,280.70 456.60,281.29 456.95,280.64 457.30,280.99 457.65,281.08 458.00,281.09 458.35,280.72 458.70,280.91 459.05,281.01 459.40,281.15 459.75,280.87 460.10,280.76 460.45,281.16 460.80,281.14 461.15,280.96 461.50,280.73 461.85,280.90 462.20,280.65 462.55,280.49 462.90,279.77 463.25,279.74 463.60,279.10 463.95,277.63 464.30,276.61 464.65,275.29 465.00,273.92 465.35,272.21 465.70,269.98 466.05,268.38 466.40,266.73 466.75,265.04 467.10,263.88 467.45,261.34 467.80,259.69 468.15,259.37 468.50,258.90 468.85,259.08 469.20,257.84 469.55,256.80 469.90,257.27 470.25,256.24 470.60,255.66 470.95,257.22 471.30,255.86 471.65,255.69 472.00,255.29 472.35,255.51 472.70,254.49 473.05,254.57 473.40,253.22 473.75,252.72 474.10,253.74 474.45,253.58 474.80,252.97 475.15,252.66 475.50,252.45 475.85,251.89 476.20,252.71 476.55,252.13 476.90,251.88 477.25,251.65 477.60,251.67 477.95,251.08 478.30,250.84 478.65,249.62 479.00,250.03 479.35,250.43 479.70,248.87 480.05,248.69 480.40,248.80 480.75,248.48 481.10,248.03 481.45,246.77 481.80,247.47 482.15,246.45 482.50,246.36 482.85,246.72 483.20,246.09 483.55,246.33 483.90,247.18 484.25,245.91 484.60,245.67 484.95,244.74 485.30,244.64 485.65,244.25 486.00,244.28 486.35,243.79 486.70,243.72 487.05,243.65 487.40,243.02 487.75,242.57 488.10,242.32 488.45,242.87 488.80,242.42 489.15,242.59 489.50,242.32 489.85,240.65 490.20,239.00 490.55,235.87 490.90,235.24 491.25,234.21 491.60,235.37 491.95,236.63 492.30,238.84 492.65,238.17 493.00,238.54 493.35,239.11 493.70,238.68 494.05,238.31 494.40,238.84 494.75,237.82 495.10,238.14 495.45,237.14 495.80,236.34 496.15,236.28 496.50,234.98 496.85,235.63 497.20,233.91 497.55,234.50 497.90,232.55 498.25,232.74 498.60,231.36 498.95,230.73 499.30,230.83 499.65,230.73 500.00,229.62 500.35,230.48 500.70,229.35 501.05,229.53 501.40,229.40 501.75,229.26 502.10,227.94 502.45,229.24 502.80,228.52 503.15,227.71 503.50,227.01 503.85,226.29 504.20,226.02 504.55,226.45 504.90,225.63 505.25,224.85 505.60,224.53 505.95,224.85 506.30,223.37 506.65,222.63 507.00,222.88 507.35,221.85 507.70,220.93 508.05,219.60 508.40,218.15 508.75,217.29 509.10,216.57 509.45,215.69 509.80,215.15 510.15,214.44 510.50,213.49 510.85,212.70 511.20,211.35 511.55,209.78 511.90,209.47 512.25,208.22 512.60,207.27 512.95,206.33 513.30,204.78 513.65,204.00 514.00,203.99 514.35,203.62 514.70,205.90 515.05,214.22 515.40,223.10 515.75,228.34 516.10,234.42 516.45,240.35 516.80,244.10 517.15,249.82 517.50,253.39 517.85,256.67 518.20,258.86" fill="none" stroke="#111111" stroke-width="1.6" stroke-linejoin="round"/>
<polyline points="352.30,280.91 352.65,279.49 353.00,279.21 353.35,279.23 353.70,279.85 354.05,279.44 354.40,279.27 354.75,280.36 355.10,278.86 355.45,278.62 355.80,279.99 356.15,279.93 356.50,280.22 356.85,278.60 357.20,280.21 357.55,279.76 357.90,280.72 358.25,278.46 358.60,279.56 358.95,279.19 359.30,278.21 359.65,278.86 360.00,280.25 360.35,279.04 360.70,278.83 361.05,280.02 361.40,280.09 361.75,280.08 362.10,278.74 362.45,279.27 362.80,280.08 363.15,278.80 363.50,278.72 363.85,279.89 364.20,280.43 364.55,278.38 364.90,277.29 365.25,278.14 365.60,278.45 365.95,279.10 366.30,279.59 366.65,278.94 367.00,278.44 367.35,279.00 367.70,278.08 368.05,278.69 368.40,278.16 368.75,280.57 369.10,279.04 369.45,277.53 369.80,277.14 370.15,277.29 370.50,276.12 370.85,276.53 371.20,276.26 371.55,277.21 371.90,275.96 372.25,275.49 372.60,274.91 372.95,274.87 373.30,275.54 373.65,275.27 374.00,276.12 374.35,274.63 374.70,275.73 375.05,275.01 375.40,274.90 375.75,273.49 376.10,274.13 376.45,275.74 376.80,276.33 377.15,275.53 377.50,276.04 377.85,275.25 378.20,275.47 378.55,275.51 378.90,276.99 379.25,276.77 379.60,276.60 379.95,276.78 380.30,277.70 380.65,277.79 381.00,277.18 381.35,279.17 381.70,278.16 382.05,278.06 382.40,279.24 382.75,278.99 383.10,278.24 383.45,278.79 383.80,277.67 384.15,278.08 384.50,276.94 384.85,279.64 385.20,277.38 385.55,279.40 385.90,278.35 386.25,278.27 386.60,278.87 386.95,279.22 387.30,279.49 387.65,280.36 388.00,279.31 388.35,279.71 388.70,278.61 389.05,279.60 389.40,279.19 389.75,278.73 390.10,279.02 390.45,279.05 390.80,279.25 391.15,279.41 391.50,278.74 391.85,278.57 392.20,279.69 392.55,277.87 392.90,278.68 393.25,280.32 393.60,277.13 393.95,278.65 394.30,279.69 394.65,277.95 395.00,281.14 395.35,277.26 395.70,280.29 396.05,280.38 396.40,279.91 396.75,279.06 397.10,279.51 397.45,278.57 397.80,279.86 398.15,278.42 398.50,279.06 398.85,280.02 399.20,278.45 399.55,279.02 399.90,279.42 400.25,278.29 400.60,280.17 400.95,279.55 401.30,278.16 401.65,279.26 402.00,278.71 402.35,278.80 402.70,279.34 403.05,278.75 403.40,280.01 403.75,278.75 404.10,280.02 404.45,279.24 404.80,279.92 405.15,278.87 405.50,278.89 405.85,278.41 406.20,279.70 406.55,279.97 406.90,280.85 407.25,280.23 407.60,279.45 407.95,279.10 408.30,279.55 408.65,279.24 409.00,280.35 409.35,279.96 409.70,278.62 410.05,278.73 410.40,280.27 410.75,279.48 411.10,279.07 411.45,280.13 411.80,278.95 412.15,279.03 412.50,278.89 412.85,277.76 413.20,279.88 413.55,278.33 413.90,278.80 414.25,278.67 414.60,279.77 414.95,279.17 415.30,279.24 415.65,277.96 416.00,279.15 416.35,278.11 416.70,279.45 417.05,279.49 417.40,279.20 417.75,280.74 418.10,279.61 418.45,279.65 418.80,279.31 419.15,279.06 419.50,279.93 419.85,280.03 420.20,278.22 420.55,279.98 420.90,279.57 421.25,279.90 421.60,279.53 421.95,278.24 422.30,278.29 422.65,280.53 423.00,279.34 423.35,278.09 423.70,279.41 424.05,278.87 424.40,277.75 424.75,277.41 425.10,277.92 425.45,279.32 425.80,279.08 426.15,278.92 426.50,279.32 426.85,279.55 427.20,277.52 427.55,278.86 427.90,278.46 428.25,278.15 428.60,278.66 428.95,278.97 429.30,278.86 429.65,277.96 430.00,278.69 430.35,280.56 430.70,278.25 431.05,277.77 431.40,279.24 431.75,279.47 432.10,279.37 432.45,278.17 432.80,279.76 433.15,278.41 433.50,278.15 433.85,278.54 434.20,278.91 434.55,279.52 434.90,279.44 435.25,278.95 435.60,279.67 435.95,279.02 436.30,279.63 436.65,277.90 437.00,277.76 437.35,279.52 437.70,277.89 438.05,278.70 438.40,278.85 438.75,278.55 439.10,278.57 439.45,279.95 439.80,277.01 440.15,279.56 440.50,280.60 440.85,278.88 441.20,278.84 441.55,279.38 441.90,280.20 442.25,277.92 442.60,278.86 442.95,278.64 443.30,279.19 443.65,278.87 444.00,279.23 444.35,278.41 444.70,278.75 445.05,278.20 445.40,278.19 445.75,278.56 446.10,278.55 446.45,277.76 446.80,279.81 447.15,278.51 447.50,277.56 447.85,279.41 448.20,278.01 448.55,278.94 448.90,278.53 449.25,278.72 449.60,278.64 449.95,278.07 450.30,278.49 450.65,279.93 451.00,276.68 451.35,278.36 451.70,278.59 452.05,277.42 452.40,277.14 452.75,279.73 453.10,277.79 453.45,279.58 453.80,278.37 454.15,277.98 454.50,278.23 454.85,278.30 455.20,278.59 455.55,277.87 455.90,277.49 456.25,277.35 456.60,278.07 456.95,277.50 457.30,275.98 457.65,276.09 458.00,276.65 458.35,275.83 458.70,275.91 459.05,275.37 459.40,275.78 459.75,276.19 460.10,276.52 460.45,275.67 460.80,277.16 461.15,275.40 461.50,277.86 461.85,276.04 462.20,275.44 462.55,274.35 462.90,272.16 463.25,274.07 463.60,273.92 463.95,274.58 464.30,270.95 464.65,272.97 465.00,270.28 465.35,270.09 465.70,266.13 466.05,267.52 466.40,266.32 466.75,266.49 467.10,265.19 467.45,263.27 467.80,264.63 468.15,264.19 468.50,263.88 468.85,264.07 469.20,263.96 469.55,262.64 469.90,261.09 470.25,260.85 470.60,263.49 470.95,262.78 471.30,262.09 471.65,261.49 472.00,261.88 472.35,261.80 472.70,261.37 473.05,260.93 473.40,263.72 473.75,261.71 474.10,260.81 474.45,260.04 474.80,260.54 475.15,261.91 475.50,261.88 475.85,260.80 476.20,260.96 476.55,260.49 476.90,259.58 477.25,261.87 477.60,260.83 477.95,262.82 478.30,259.48 478.65,259.98 479.00,260.89 479.35,259.65 479.70,258.40 480.05,258.72 480.40,259.66 480.75,259.79 481.10,259.24 481.45,260.22 481.80,260.09 482.15,259.30 482.50,258.88 482.85,258.48 483.20,259.17 483.55,259.42 483.90,258.44 484.25,258.71 484.60,257.82 484.95,256.61 485.30,256.90 485.65,258.55 486.00,258.11 486.35,259.16 486.70,257.56 487.05,258.30 487.40,258.70 487.75,258.30 488.10,256.63 488.45,256.99 488.80,257.24 489.15,256.06 489.50,257.45 489.85,257.94 490.20,256.36 490.55,258.75 490.90,256.42 491.25,256.44 491.60,256.34 491.95,255.80 492.30,256.86 492.65,256.39 493.00,257.97 493.35,256.84 493.70,256.71 494.05,255.88 494.40,254.62 494.75,255.87 495.10,255.04 495.45,256.78 495.80,255.73 496.15,257.35 496.50,256.35 496.85,256.26 497.20,255.41 497.55,255.15 497.90,255.35 498.25,255.37 498.60,253.49 498.95,254.45 499.30,256.34 499.65,253.38 500.00,252.97 500.35,252.27 500.70,251.20 501.05,253.79 501.40,252.32 501.75,252.35 502.10,253.80 502.45,254.19 502.80,249.61 503.15,251.58 503.50,250.59 503.85,249.84 504.20,249.50 504.55,248.36 504.90,250.17 505.25,248.35 505.60,247.51 505.95,248.27 506.30,246.59 506.65,244.54 507.00,242.94 507.35,245.40 507.70,239.90 508.05,235.83 508.40,231.02 508.75,231.44 509.10,227.89 509.45,230.86 509.80,230.31 510.15,220.26 510.50,225.52 510.85,225.76 511.20,222.09 511.55,215.31 511.90,220.24 512.25,210.51 512.60,206.00 512.95,204.37 513.30,205.96 513.65,215.75 514.00,222.69 514.35,225.29 514.70,225.29 515.05,231.29 515.40,235.11 515.75,240.29 516.10,240.55 516.45,247.63 516.80,253.60 517.15,257.49 517.50,261.39 517.85,261.76 518.20,263.63 518.55,267.36" fill="none" stroke="#28287f" stroke-width="1.8" stroke-linejoin="round"/>
<path d="M54.599999999999994,5.5H178.2" stroke="#1a1a1a" stroke-width="1.4" fill="none"/>
<path d="M54.599999999999994,288.0H178.2" stroke="#1a1a1a" stroke-width="1.6" fill="none"/>
<path d="M55.3,4.8V288.8" stroke="#1a1a1a" stroke-width="1.4" fill="none"/>
<path d="M177.5,4.8V288.8" stroke="#1a1a1a" stroke-width="1.4" fill="none"/>
<path d="M221.75,5.5H300.3" stroke="#1a1a1a" stroke-width="1.4" fill="none"/>
<path d="M221.75,288.0H300.3" stroke="#1a1a1a" stroke-width="1.6" fill="none"/>
<path d="M222.45,4.8V288.8" stroke="#1a1a1a" stroke-width="1.4" fill="none"/>
<path d="M299.6,4.8V288.8" stroke="#1a1a1a" stroke-width="1.4" fill="none"/>
<path d="M350.90000000000003,5.5H520.2" stroke="#1a1a1a" stroke-width="1.4" fill="none"/>
<path d="M350.90000000000003,288.0H520.2" stroke="#1a1a1a" stroke-width="1.6" fill="none"/>
<path d="M351.6,4.8V288.8" stroke="#1a1a1a" stroke-width="1.4" fill="none"/>
<path d="M519.5,4.8V288.8" stroke="#1a1a1a" stroke-width="1.2" fill="none"/>
<path d="M85.62,288.2v6M85.62,5.3v6M146.88,288.2v6M146.88,5.3v6M70.31,288.2v3M70.31,5.3v3M100.94,288.2v3M100.94,5.3v3M116.25,288.2v3M116.25,5.3v3M131.56,288.2v3M131.56,5.3v3M162.19,288.2v3M162.19,5.3v3" stroke="#1a1a1a" stroke-width="1.2" fill="none"/>
<path d="M55.0,5.30h-6M177.5,5.30h-6M55.0,74.22h-6M177.5,74.22h-6M55.0,143.15h-6M177.5,143.15h-6M55.0,212.07h-6M177.5,212.07h-6M55.0,281.00h-6M177.5,281.00h-6M55.0,39.76h-3M177.5,39.76h-3M55.0,108.69h-3M177.5,108.69h-3M55.0,177.61h-3M177.5,177.61h-3M55.0,246.54h-3M177.5,246.54h-3" stroke="#1a1a1a" stroke-width="1.2" fill="none"/>
<path d="M242.95,288.2v6M242.95,5.3v6M283.40,288.2v6M283.40,5.3v6M263.18,288.2v3M263.18,5.3v3" stroke="#1a1a1a" stroke-width="1.2" fill="none"/>
<path d="M222.5,5.30h6M299.8,5.30h-6M222.5,60.54h6M299.8,60.54h-6M222.5,115.78h6M299.8,115.78h-6M222.5,171.02h6M299.8,171.02h-6M222.5,226.26h6M299.8,226.26h-6M222.5,281.50h6M299.8,281.50h-6M222.5,32.92h3M299.8,32.92h-3M222.5,88.16h3M299.8,88.16h-3M222.5,143.40h3M299.8,143.40h-3M222.5,198.64h3M299.8,198.64h-3M222.5,253.88h3M299.8,253.88h-3" stroke="#1a1a1a" stroke-width="1.2" fill="none"/>
<path d="M388.05,288.2v6M388.05,5.3v6M461.05,288.2v6M461.05,5.3v6M369.80,288.2v3M369.80,5.3v3M406.30,288.2v3M406.30,5.3v3M424.55,288.2v3M424.55,5.3v3M442.80,288.2v3M442.80,5.3v3M479.30,288.2v3M479.30,5.3v3M497.55,288.2v3M497.55,5.3v3M515.80,288.2v3M515.80,5.3v3" stroke="#1a1a1a" stroke-width="1.2" fill="none"/>
<path d="M351.7,5.30h6M519.0,5.30h-6M351.7,60.44h6M519.0,60.44h-6M351.7,115.58h6M519.0,115.58h-6M351.7,170.72h6M519.0,170.72h-6M351.7,225.86h6M519.0,225.86h-6M351.7,281.00h6M519.0,281.00h-6M351.7,32.87h3M519.0,32.87h-3M351.7,88.01h3M519.0,88.01h-3M351.7,143.15h3M519.0,143.15h-3M351.7,198.29h3M519.0,198.29h-3M351.7,253.43h3M519.0,253.43h-3" stroke="#1a1a1a" stroke-width="1.2" fill="none"/>
<text x="45.2" y="10.25" font-size="14.3" text-anchor="end" font-weight="normal" fill="#111" stroke="#111" stroke-width="0.3" >4000</text>
<text x="45.2" y="79.17" font-size="14.3" text-anchor="end" font-weight="normal" fill="#111" stroke="#111" stroke-width="0.3" >3000</text>
<text x="45.2" y="148.10" font-size="14.3" text-anchor="end" font-weight="normal" fill="#111" stroke="#111" stroke-width="0.3" >2000</text>
<text x="45.2" y="217.02" font-size="14.3" text-anchor="end" font-weight="normal" fill="#111" stroke="#111" stroke-width="0.3" >1000</text>
<text x="45.2" y="285.95" font-size="14.3" text-anchor="end" font-weight="normal" fill="#111" stroke="#111" stroke-width="0.3" >0</text>
<text x="216.6" y="10.25" font-size="14.3" text-anchor="end" font-weight="normal" fill="#111" stroke="#111" stroke-width="0.3" >500</text>
<text x="216.6" y="65.49" font-size="14.3" text-anchor="end" font-weight="normal" fill="#111" stroke="#111" stroke-width="0.3" >400</text>
<text x="216.6" y="120.73" font-size="14.3" text-anchor="end" font-weight="normal" fill="#111" stroke="#111" stroke-width="0.3" >300</text>
<text x="216.6" y="175.97" font-size="14.3" text-anchor="end" font-weight="normal" fill="#111" stroke="#111" stroke-width="0.3" >200</text>
<text x="216.6" y="231.21" font-size="14.3" text-anchor="end" font-weight="normal" fill="#111" stroke="#111" stroke-width="0.3" >100</text>
<text x="216.6" y="286.45" font-size="14.3" text-anchor="end" font-weight="normal" fill="#111" stroke="#111" stroke-width="0.3" >0</text>
<text x="345.4" y="10.25" font-size="14.3" text-anchor="end" font-weight="normal" fill="#111" stroke="#111" stroke-width="0.3" >2000</text>
<text x="345.4" y="65.39" font-size="14.3" text-anchor="end" font-weight="normal" fill="#111" stroke="#111" stroke-width="0.3" >1600</text>
<text x="345.4" y="120.53" font-size="14.3" text-anchor="end" font-weight="normal" fill="#111" stroke="#111" stroke-width="0.3" >1200</text>
<text x="345.4" y="175.67" font-size="14.3" text-anchor="end" font-weight="normal" fill="#111" stroke="#111" stroke-width="0.3" >800</text>
<text x="345.4" y="230.81" font-size="14.3" text-anchor="end" font-weight="normal" fill="#111" stroke="#111" stroke-width="0.3" >400</text>
<text x="345.4" y="285.95" font-size="14.3" text-anchor="end" font-weight="normal" fill="#111" stroke="#111" stroke-width="0.3" >0</text>
<text x="85.62" y="308.4" font-size="14.3" text-anchor="middle" font-weight="normal" fill="#111" stroke="#111" stroke-width="0.3" >3600</text>
<text x="146.88" y="308.4" font-size="14.3" text-anchor="middle" font-weight="normal" fill="#111" stroke="#111" stroke-width="0.3" >3200</text>
<text x="242.95" y="308.4" font-size="14.3" text-anchor="middle" font-weight="normal" fill="#111" stroke="#111" stroke-width="0.3" >1700</text>
<text x="283.40" y="308.4" font-size="14.3" text-anchor="middle" font-weight="normal" fill="#111" stroke="#111" stroke-width="0.3" >1600</text>
<text x="388.05" y="308.4" font-size="14.3" text-anchor="middle" font-weight="normal" fill="#111" stroke="#111" stroke-width="0.3" >800</text>
<text x="461.05" y="308.4" font-size="14.3" text-anchor="middle" font-weight="normal" fill="#111" stroke="#111" stroke-width="0.3" >400</text>
<text x="62.8" y="24.9" font-size="15" text-anchor="start" font-weight="bold" fill="#111" >A</text>
<text x="229.8" y="25.0" font-size="15" text-anchor="start" font-weight="bold" fill="#111" >B</text>
<text x="360.6" y="24.9" font-size="15" text-anchor="start" font-weight="bold" fill="#111" >C</text>
<text x="110.3" y="25.2" font-size="12.4" text-anchor="middle" font-weight="normal" fill="#111" stroke="#111" stroke-width="0.3" >3446</text>
<text x="113.6" y="89.6" font-size="12.4" text-anchor="middle" font-weight="normal" fill="#111" stroke="#111" stroke-width="0.3" >3424</text>
<text x="92.5" y="168.6" font-size="12.4" text-anchor="middle" font-weight="normal" fill="#111" stroke="#111" stroke-width="0.3" >3545</text>
<text x="260.0" y="49.4" font-size="12.4" text-anchor="middle" font-weight="normal" fill="#111" stroke="#111" stroke-width="0.3" >1636</text>
<text x="252.6" y="101.4" font-size="12.4" text-anchor="middle" font-weight="normal" fill="#111" stroke="#111" stroke-width="0.3" >1664</text>
<text x="272.0" y="151.7" font-size="12.4" text-anchor="middle" font-weight="normal" fill="#111" stroke="#111" stroke-width="0.3" >1645</text>
<text x="453.3" y="133.6" font-size="12.4" text-anchor="middle" font-weight="normal" fill="#111" stroke="#111" stroke-width="0.3" >390</text>
<text x="478.2" y="228.5" font-size="12.4" text-anchor="middle" font-weight="normal" fill="#111" stroke="#111" stroke-width="0.3" >234</text>
<text x="356.9" y="51.5" font-size="14.4" text-anchor="start" font-weight="bold" fill="#3b7350" >NaCl solution</text>
<text x="356.1" y="146.6" font-size="14.4" font-weight="bold" fill="#c01a34">NaCl·2H<tspan font-size="10" dy="4.3">2</tspan><tspan dy="-4.3">O</tspan></text>
<text x="366.9" y="258.6" font-size="14.4" font-weight="bold" fill="#303090">NaCl <tspan fill="#111">/ bulk</tspan></text>
<text x="209.2" y="336.8" textLength="47.9" font-size="15.5" lengthAdjust="spacingAndGlyphs" fill="#111" stroke="#111" stroke-width="0.25">Raman</text>
<text x="260.1" y="336.8" textLength="34.5" font-size="15.5" lengthAdjust="spacingAndGlyphs" fill="#111" stroke="#111" stroke-width="0.25">Shift</text>
<text x="298.0" y="336.8" textLength="26.3" font-size="15.5" lengthAdjust="spacingAndGlyphs" fill="#111" stroke="#111" stroke-width="0.25">[cm</text>
<text x="325.2" y="330.8" font-size="9" fill="#111" stroke="#111" stroke-width="0.2">-</text>
<text x="329.8" y="330.8" font-size="9" fill="#111" stroke="#111" stroke-width="0.2">1</text>
<text x="334.9" y="336.8" font-size="15.5" fill="#111" stroke="#111" stroke-width="0.25">]</text>
<text transform="translate(9.4,215.0) rotate(-90)" font-size="14" textLength="133.2" lengthAdjust="spacingAndGlyphs" fill="#111" stroke="#111" stroke-width="0.15">Relative Intensity [a.u.]</text>
</svg>
</body></html>
